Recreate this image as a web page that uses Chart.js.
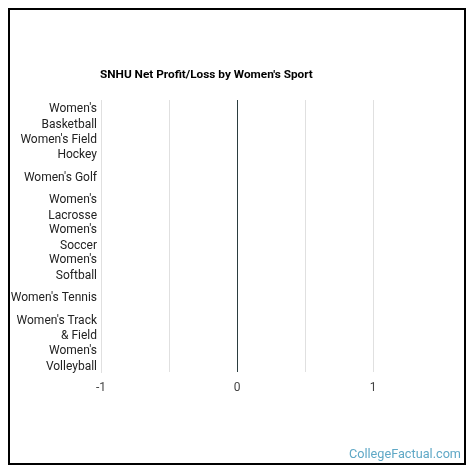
<!DOCTYPE html>
<html lang="en">
<head>
  <meta charset="UTF-8" />
  <title>SNHU Net Profit/Loss by Women's Sport</title>
  <script src="https://cdn.jsdelivr.net/npm/chart.js"></script>
  <style>
    body {
      margin: 0;
      background: #fff;
      font-family: Roboto, sans-serif;
    }
    #wrap {
      position: relative;
      width: 476px;
      height: 476px;
    }
    #frame {
      position: absolute;
      left: 8px;
      top: 8px;
      width: 458px;
      height: 457px;
      box-sizing: border-box;
      border: 2px solid #000;
    }
    canvas {
      position: absolute;
      left: 0;
      top: 0;
    }
    #credit {
      position: absolute;
      right: 15px;
      top: 446px;
      font-size: 12.7px;
      color: #5fa8c6;
    }
  </style>
</head>
<body>
  <div id="wrap">
    <div id="frame"></div>
    <canvas id="sportChart" width="476" height="476"></canvas>
    <div id="credit">CollegeFactual.com</div>
  </div>

  <script>
    const chartTitle = "SNHU Net Profit/Loss by Women's Sport";
    const sports = [
      ["Women's", "Basketball"],
      ["Women's Field", "Hockey"],
      "Women's Golf",
      ["Women's", "Lacrosse"],
      ["Women's", "Soccer"],
      ["Women's", "Softball"],
      "Women's Tennis",
      ["Women's Track", "& Field"],
      ["Women's", "Volleyball"]
    ];
    const netProfit = [0, 0, 0, 0, 0, 0, 0, 0, 0];
    const xTicks = [-1, 0, 1];

    // title sits at the left edge of the plot, like the original
    const titlePlugin = {
      id: 'leftTitle',
      afterDraw(chart) {
        const c = chart.ctx;
        c.save();
        c.font = 'bold 11.8px Roboto';
        c.fillStyle = '#000';
        c.textBaseline = 'middle';
        c.textAlign = 'left';
        c.fillText(chartTitle, chart.chartArea.left - 1, 75);
        c.restore();
      }
    };

    new Chart(document.getElementById('sportChart'), {
      type: 'bar',
      data: {
        labels: sports,
        datasets: [{
          label: 'Net Profit/Loss',
          data: netProfit,
          backgroundColor: '#2d5d5d',
          borderWidth: 0
        }]
      },
      options: {
        indexAxis: 'y',
        responsive: false,
        animation: false,
        devicePixelRatio: 1,
        layout: { padding: { top: 100, right: 103, bottom: 74, left: 0 } },
        plugins: {
          legend: { display: false },
          title: { display: false },
          tooltip: { enabled: false }
        },
        scales: {
          x: {
            min: -1,
            max: 1,
            afterFit(scale) { scale.height = 30; },
            ticks: {
              stepSize: 0.5,
              padding: 9,
              color: '#444',
              font: { family: 'Roboto', size: 12 },
              callback: v => xTicks.includes(v) ? String(v) : ''
            },
            grid: {
              drawTicks: false,
              color: c => c.tick && c.tick.value === 0 ? '#2b3d3f' : '#e0e0e0',
              lineWidth: 1
            },
            border: { display: false }
          },
          y: {
            afterFit(scale) { scale.width = 101; },
            ticks: {
              autoSkip: false,
              padding: 4,
              labelOffset: 2,
              color: '#222',
              font: { family: 'Roboto', size: 12, lineHeight: 1.3 }
            },
            grid: { display: false, drawTicks: false },
            border: { display: true, color: '#e0e0e0' }
          }
        }
      },
      plugins: [titlePlugin]
    });
  </script>
</body>
</html>
